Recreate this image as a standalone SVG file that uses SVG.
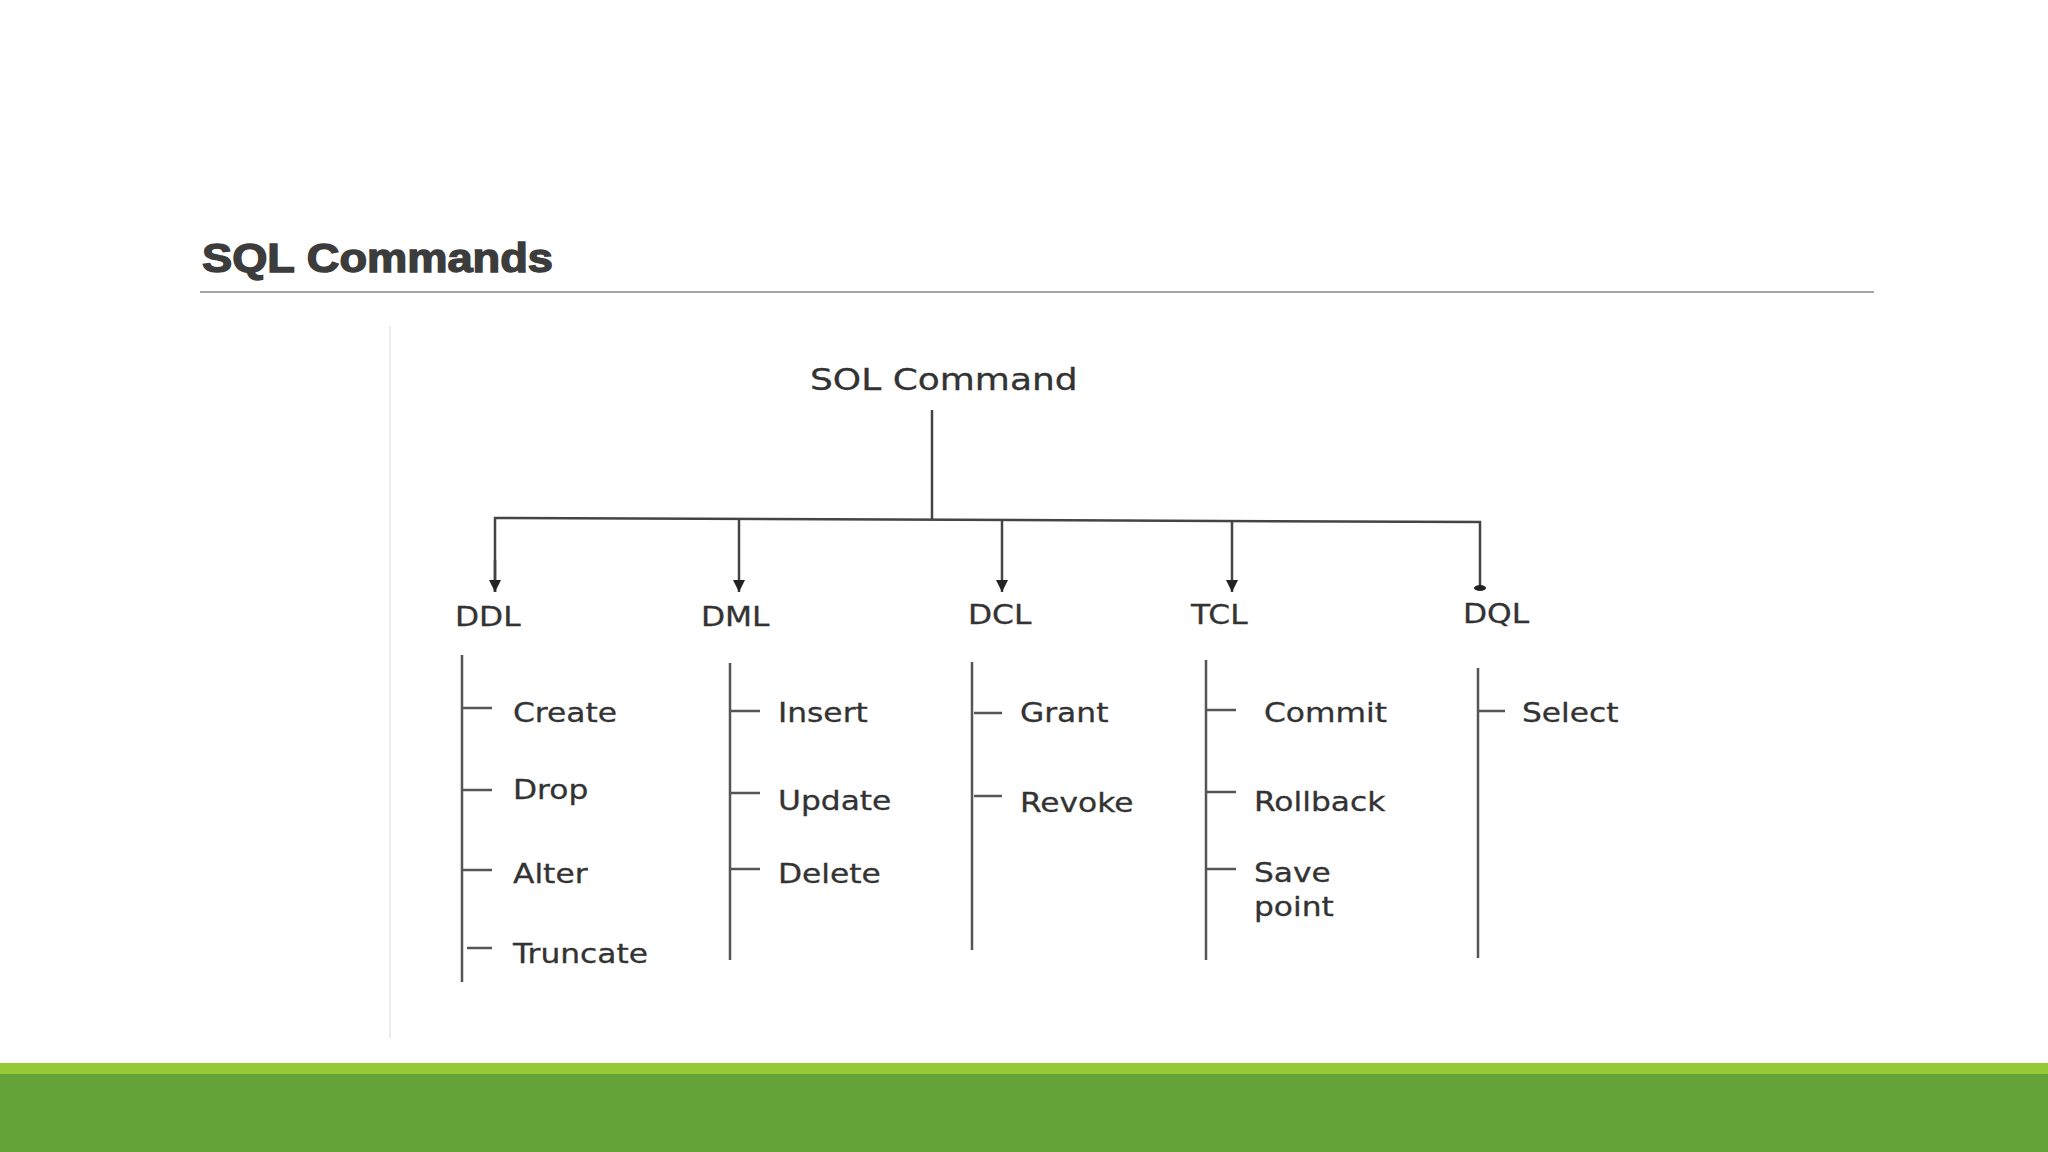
<svg xmlns="http://www.w3.org/2000/svg" width="2048" height="1152" viewBox="0 0 2048 1152">
<defs>
<style>
.title{font-family:"Liberation Sans",Arial,sans-serif;font-weight:bold;font-size:40px;fill:#3c3c3c;stroke:#3c3c3c;stroke-width:1.4px}
.hdr{font-family:"DejaVu Sans",Verdana,sans-serif;font-size:30px;fill:#333;stroke:#333;stroke-width:0.3px}
.lbl{font-family:"DejaVu Sans",Verdana,sans-serif;font-size:27px;fill:#333;stroke:#333;stroke-width:0.3px}
.ln{stroke:#444;stroke-width:2.5;fill:none}
.gl{stroke:#555;stroke-width:2.5;fill:none}
.dash{stroke:#555;stroke-width:2.5}
</style>
<marker id="arr" viewBox="0 0 10 10" refX="10" refY="5" markerWidth="4.8" markerHeight="4.8" orient="auto" markerUnits="strokeWidth">
<path d="M0,0 L10,5 L0,10 z" fill="#222"/>
</marker>
</defs>
<rect width="2048" height="1152" fill="#ffffff"/>
<g id="header">
<text class="title" x="202" y="272" textLength="351" lengthAdjust="spacingAndGlyphs">SQL Commands</text>
<line x1="200" y1="292" x2="1874" y2="292" stroke="#a6a6a6" stroke-width="2"/>
</g>
<line x1="390" y1="326" x2="390" y2="1038" stroke="#ececec" stroke-width="2"/>
<g id="root">
<text class="hdr" transform="translate(810 390) scale(1.2 1)">SOL Command</text>
</g>
<g id="connectors">
<line class="ln" x1="932" y1="410" x2="932" y2="519"/>
<polyline class="ln" points="495,592 495,518 1480,522 1480,586"/>
<line class="ln" x1="739" y1="519" x2="739" y2="592" marker-end="url(#arr)"/>
<line class="ln" x1="1002" y1="520" x2="1002" y2="592" marker-end="url(#arr)"/>
<line class="ln" x1="1232" y1="521" x2="1232" y2="592" marker-end="url(#arr)"/>
<line class="ln" x1="495" y1="560" x2="495" y2="592" marker-end="url(#arr)"/>
<ellipse cx="1480" cy="588" rx="6" ry="3" fill="#222"/>
</g>
<g id="ddl">
<text class="lbl" transform="translate(455 626) scale(1.16 1)">DDL</text>
<line class="gl" x1="462" y1="655" x2="462" y2="982"/>
<line class="dash" x1="462" y1="708" x2="492" y2="708"/>
<line class="dash" x1="462" y1="790" x2="492" y2="790"/>
<line class="dash" x1="462" y1="870" x2="492" y2="870"/>
<line class="dash" x1="467" y1="948" x2="492" y2="948"/>
<text class="lbl" transform="translate(513 722) scale(1.16 1)">Create</text>
<text class="lbl" transform="translate(513 799) scale(1.16 1)">Drop</text>
<text class="lbl" transform="translate(513 883) scale(1.16 1)">Alter</text>
<text class="lbl" transform="translate(513 963) scale(1.16 1)">Truncate</text>
</g>
<g id="dml">
<text class="lbl" transform="translate(701 626) scale(1.16 1)">DML</text>
<line class="gl" x1="730" y1="663" x2="730" y2="960"/>
<line class="dash" x1="730" y1="711" x2="760" y2="711"/>
<line class="dash" x1="730" y1="793" x2="760" y2="793"/>
<line class="dash" x1="730" y1="869" x2="760" y2="869"/>
<text class="lbl" transform="translate(778 722) scale(1.16 1)">Insert</text>
<text class="lbl" transform="translate(778 810) scale(1.16 1)">Update</text>
<text class="lbl" transform="translate(778 883) scale(1.16 1)">Delete</text>
</g>
<g id="dcl">
<text class="lbl" transform="translate(968 624) scale(1.16 1)">DCL</text>
<line class="gl" x1="972" y1="662" x2="972" y2="950"/>
<line class="dash" x1="974" y1="713" x2="1002" y2="713"/>
<line class="dash" x1="974" y1="796" x2="1002" y2="796"/>
<text class="lbl" transform="translate(1020 722) scale(1.16 1)">Grant</text>
<text class="lbl" transform="translate(1020 812) scale(1.16 1)">Revoke</text>
</g>
<g id="tcl">
<text class="lbl" transform="translate(1191 624) scale(1.16 1)">TCL</text>
<line class="gl" x1="1206" y1="660" x2="1206" y2="960"/>
<line class="dash" x1="1207" y1="710" x2="1236" y2="710"/>
<line class="dash" x1="1207" y1="792" x2="1236" y2="792"/>
<line class="dash" x1="1207" y1="869" x2="1236" y2="869"/>
<text class="lbl" transform="translate(1264 722) scale(1.16 1)">Commit</text>
<text class="lbl" transform="translate(1254 811) scale(1.16 1)">Rollback</text>
<text class="lbl" transform="translate(1254 882) scale(1.16 1)">Save</text>
<text class="lbl" transform="translate(1254 916) scale(1.16 1)">point</text>
</g>
<g id="dql">
<text class="lbl" transform="translate(1463 623) scale(1.16 1)">DQL</text>
<line class="gl" x1="1478" y1="668" x2="1478" y2="958"/>
<line class="dash" x1="1479" y1="711" x2="1505" y2="711"/>
<text class="lbl" transform="translate(1522 722) scale(1.16 1)">Select</text>
</g>
<g id="footer">
<rect x="0" y="1063" width="2048" height="11" fill="#96c936"/>
<rect x="0" y="1074" width="2048" height="78" fill="#64a337"/>
</g>
</svg>
